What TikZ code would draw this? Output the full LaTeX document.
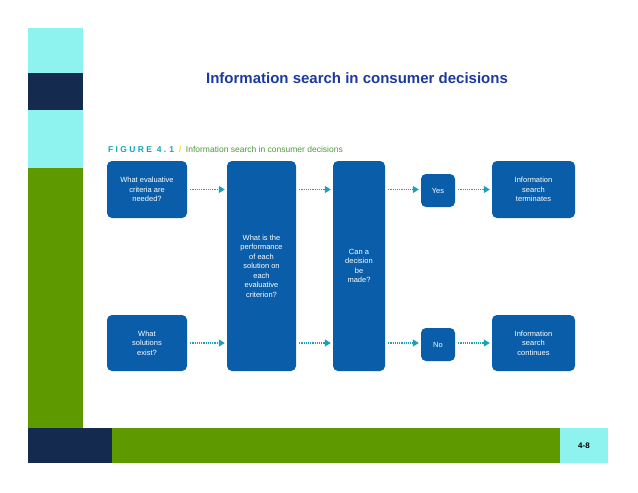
\documentclass[tikz,border=0pt]{standalone}
\usepackage{fontspec}
\setmainfont{Liberation Sans}
\usetikzlibrary{arrows.meta}
\definecolor{bx}{HTML}{0A5DA8}
\definecolor{nv}{HTML}{142A4E}
\definecolor{cy}{HTML}{8EF2EE}
\definecolor{gr}{HTML}{5F9900}
\definecolor{tb}{HTML}{1B3A9E}
\definecolor{ar}{HTML}{1AA0B8}
\begin{document}
\begin{tikzpicture}[x=1pt,y=-1pt,
 box/.style={fill=bx,rounded corners=5pt,text=white,align=center,font=\fontsize{7.5}{9.5}\selectfont,inner sep=0pt},
 arr/.style={ar,densely dotted,line width=1.2pt,-{Triangle[width=7pt,length=6pt,line cap=butt]}}]
\useasboundingbox (0,0) rectangle (638,493);
\fill[cy] (28,28) rectangle (83,73);
\fill[nv] (28,73) rectangle (83,110);
\fill[cy] (28,110) rectangle (83,168);
\fill[gr] (28,168) rectangle (83,428);
\fill[nv] (28,428) rectangle (112,463);
\fill[gr] (112,428) rectangle (560,463);
\fill[cy] (560,428) rectangle (608,463);
\node[font=\bfseries\fontsize{8}{9}\selectfont] (pg) at (584,446) {4-8};
\node[text=tb,font=\bfseries\fontsize{15}{18}\selectfont] (title) at (357,78) {Information search in consumer decisions};
\node[anchor=west,font=\fontsize{8.5}{10}\selectfont,inner sep=0pt] (cap) at (108,150) {\textcolor{ar}{\textbf{F I G U R E\ \ 4 . 1}}\ \ \textcolor{yellow!80!orange}{\textbf{/}}\ \ \textcolor{gr!70!ar}{Information search in consumer decisions}};
\node[box,minimum width=80,minimum height=57] (a) at (147,189.5) {What evaluative\\criteria are\\needed?};
\node[box,minimum width=80,minimum height=56] (b) at (147,343) {What\\solutions\\exist?};
\node[box,minimum width=69,minimum height=210] (c) at (261.5,266) {What is the\\performance\\of each\\solution on\\each\\evaluative\\criterion?};
\node[box,minimum width=52,minimum height=210] (d) at (359,266) {Can a\\decision\\be\\made?};
\node[box,minimum width=34,minimum height=33] (y) at (438,190.5) {Yes};
\node[box,minimum width=34,minimum height=33] (n) at (438,344.5) {No};
\node[box,minimum width=83,minimum height=57] (e) at (533.5,189.5) {Information\\search\\terminates};
\node[box,minimum width=83,minimum height=56] (f) at (533.5,343) {Information\\search\\continues};
\coordinate (c1) at (c.west|-a); \coordinate (c2) at (c.west|-b);
\coordinate (c3) at (c.east|-a); \coordinate (c4) at (c.east|-b);
\coordinate (d1) at (d.west|-a); \coordinate (d2) at (d.west|-b);
\coordinate (d3) at (d.east|-a); \coordinate (d4) at (d.east|-b);
\draw[arr] ([xshift=3pt]a.east) -- ([xshift=-2pt]c1);
\draw[arr] ([xshift=3pt]b.east) -- ([xshift=-2pt]c2);
\draw[arr] ([xshift=3pt]c3) -- ([xshift=-2pt]d1);
\draw[arr] ([xshift=3pt]c4) -- ([xshift=-2pt]d2);
\draw[arr] ([xshift=3pt]d3) -- ([xshift=-2pt]y.west|-a);
\draw[arr] ([xshift=3pt]d4) -- ([xshift=-2pt]n.west|-b);
\draw[arr] ([xshift=3pt]y.east|-a) -- ([xshift=-2pt]e.west);
\draw[arr] ([xshift=3pt]n.east|-b) -- ([xshift=-2pt]f.west);
\end{tikzpicture}
\end{document}
